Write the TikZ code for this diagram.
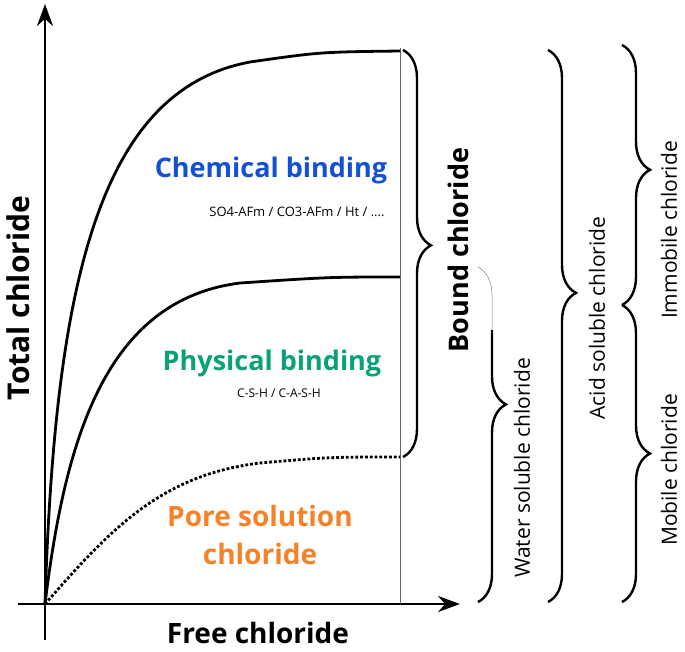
\documentclass[tikz,border=0pt]{standalone}
\usepackage{fontspec}
\setmainfont{Open Sans}
\usetikzlibrary{decorations.pathreplacing,arrows.meta}
\begin{document}
\begin{tikzpicture}[x=1pt,y=-1pt,
  br/.style={decorate,decoration={brace,amplitude=28pt,aspect=#1},line width=2.4pt},
  br/.default=0.5,
  lab/.style={font=\fontsize{21}{24}\selectfont},
  big/.style={font=\fontsize{28}{32}\selectfont\bfseries}]
\useasboundingbox (0,0) rectangle (685,651);
% axes
\coordinate (o) at (45,604);
\coordinate (ytop) at (45,4);
\coordinate (xend) at (460,604);
\draw[line width=2.6pt,-{Stealth[length=22pt,width=16pt]}] (45,640) -- (ytop);
\draw[line width=2.6pt,-{Stealth[length=22pt,width=16pt]}] (18,604) -- (xend);
\coordinate (vt) at (400,48);
\coordinate (vb) at (400,604);
\draw[line width=0.6pt,gray!80!black] (vt) -- (vb);
% curves
\coordinate (c1) at (400,51);
\coordinate (c2) at (400,277);
\coordinate (c3) at (400,457);
\draw[line width=2.8pt] (o) .. controls (55,280) and (100,90) .. (250,62) .. controls (320,52) .. (c1);
\draw[line width=2.8pt] (o) .. controls (65,440) and (105,300) .. (240,283) .. controls (330,277) .. (c2);
\draw[line width=2.8pt,dotted] (o) .. controls (110,530) and (160,475) .. (260,463) .. controls (330,457) .. (c3);
% texts
\node[font=\fontsize{27}{30}\selectfont\bfseries,text={rgb,255:red,20;green,80;blue,210}] (chem) at (271,170) {Chemical binding};
\node[font=\fontsize{13}{15}\selectfont] (chemsub) at (297,212) {SO4-AFm / CO3-AFm / Ht / ....};
\node[font=\fontsize{27}{30}\selectfont\bfseries,text={rgb,255:red,10;green,160;blue,120}] (phys) at (272,363) {Physical binding};
\node[font=\fontsize{12}{14}\selectfont] (physsub) at (279,393) {C-S-H / C-A-S-H};
\node[font=\fontsize{28}{38}\selectfont\bfseries,text={rgb,255:red,245;green,130;blue,40},align=center] (pore) at (260,535) {Pore solution\\chloride};
\node[font=\fontsize{30}{34}\selectfont\bfseries,rotate=90] (total) at (18,298) {Total chloride};
\node[big] (free) at (258,633) {Free chloride};
% braces
\coordinate (b1t) at (403,50); \coordinate (b1b) at (403,457);
\draw[br=0.48] (b1t) -- (b1b);
\node[font=\fontsize{27}{30}\selectfont\bfseries,rotate=90] (bound) at (458,250) {Bound chloride};
\coordinate (b2t) at (478,267); \coordinate (b2b) at (478,602);
\draw[decorate,decoration={brace,amplitude=28pt,aspect=0.41},line width=0.5pt,gray] (b2t) -- (b2b);
\begin{scope}
\clip (450,330) rectangle (520,620);
\draw[br=0.41] (b2t) -- (b2b);
\end{scope}
\node[lab,rotate=90] (water) at (522,468) {Water soluble chloride};
\coordinate (b3t) at (548,50); \coordinate (b3b) at (548,602);
\draw[br=0.44] (b3t) -- (b3b);
\node[lab,rotate=90] (acid) at (597,318) {Acid soluble chloride};
\coordinate (b4t) at (622,45); \coordinate (b4m) at (622,305); \coordinate (b4b) at (622,602);
\draw[br=0.48] (b4t) -- (b4m);
\draw[br=0.5] (b4m) -- (b4b);
\node[lab,rotate=90] (immob) at (669,230) {Immobile chloride};
\node[lab,rotate=90] (mob) at (669,470) {Mobile chloride};
\end{tikzpicture}
\end{document}
